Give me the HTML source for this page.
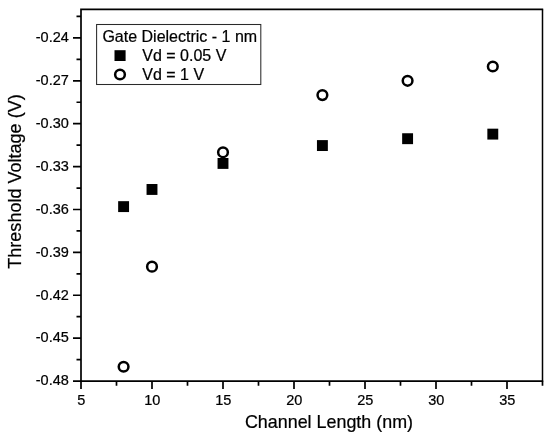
<!DOCTYPE html>
<html><head><meta charset="utf-8"><title>Threshold Voltage vs Channel Length</title>
<style>html,body{margin:0;padding:0;background:#fff}svg{display:block}text{font-family:"Liberation Sans",Arial,sans-serif;fill:#000;stroke:#000;stroke-width:0.22px}</style></head><body>
<svg width="550" height="436" viewBox="0 0 550 436">
<rect width="550" height="436" fill="#fff"/>
<path d="M80.15 9.4H543.2M80.15 381.05H543.2M81.0 9.4V381.05" fill="none" stroke="#000" stroke-width="1.7"/>
<path d="M542.5 9.4V381.05" fill="none" stroke="#000" stroke-width="1.5"/>
<path d="M81.0 381.05h-8.0M81.0 359.60h-4.5M81.0 338.16h-8.0M81.0 316.71h-4.5M81.0 295.26h-8.0M81.0 273.82h-4.5M81.0 252.37h-8.0M81.0 230.92h-4.5M81.0 209.48h-8.0M81.0 188.03h-4.5M81.0 166.58h-8.0M81.0 145.13h-4.5M81.0 123.69h-8.0M81.0 102.24h-4.5M81.0 80.79h-8.0M81.0 59.35h-4.5M81.0 37.90h-8.0M81.0 16.45h-4.5M81.00 381.05v7.9M116.50 381.05v4.7M152.00 381.05v7.9M187.50 381.05v4.7M223.00 381.05v7.9M258.50 381.05v4.7M294.00 381.05v7.9M329.50 381.05v4.7M365.00 381.05v7.9M400.50 381.05v4.7M436.00 381.05v7.9M471.50 381.05v4.7M507.00 381.05v7.9M542.50 381.05v4.7" stroke="#000" stroke-width="1.7" fill="none"/>
<text x="68.8" y="42.20" font-size="14.5" text-anchor="end">-0.24</text>
<text x="68.8" y="85.09" font-size="14.5" text-anchor="end">-0.27</text>
<text x="68.8" y="127.99" font-size="14.5" text-anchor="end">-0.30</text>
<text x="68.8" y="170.88" font-size="14.5" text-anchor="end">-0.33</text>
<text x="68.8" y="213.78" font-size="14.5" text-anchor="end">-0.36</text>
<text x="68.8" y="256.67" font-size="14.5" text-anchor="end">-0.39</text>
<text x="68.8" y="299.56" font-size="14.5" text-anchor="end">-0.42</text>
<text x="68.8" y="342.46" font-size="14.5" text-anchor="end">-0.45</text>
<text x="68.8" y="385.35" font-size="14.5" text-anchor="end">-0.48</text>
<text x="81.20" y="404.8" font-size="14.5" text-anchor="middle">5</text>
<text x="152.20" y="404.8" font-size="14.5" text-anchor="middle">10</text>
<text x="223.20" y="404.8" font-size="14.5" text-anchor="middle">15</text>
<text x="294.20" y="404.8" font-size="14.5" text-anchor="middle">20</text>
<text x="365.20" y="404.8" font-size="14.5" text-anchor="middle">25</text>
<text x="436.20" y="404.8" font-size="14.5" text-anchor="middle">30</text>
<text x="507.20" y="404.8" font-size="14.5" text-anchor="middle">35</text>
<text x="329.0" y="428.2" font-size="17.9" text-anchor="middle">Channel Length (nm)</text>
<text transform="translate(20.6 181.5) rotate(-90)" font-size="18.05" text-anchor="middle">Threshold Voltage (V)</text>
<rect x="118.15" y="201.17" width="10.9" height="10.9" fill="#000"/>
<rect x="146.55" y="184.01" width="10.9" height="10.9" fill="#000"/>
<rect x="217.55" y="157.99" width="10.9" height="10.9" fill="#000"/>
<rect x="316.95" y="140.11" width="10.9" height="10.9" fill="#000"/>
<rect x="402.15" y="133.25" width="10.9" height="10.9" fill="#000"/>
<rect x="487.35" y="128.67" width="10.9" height="10.9" fill="#000"/>
<circle cx="123.60" cy="366.75" r="4.85" fill="#fff" stroke="#000" stroke-width="2.5"/>
<circle cx="152.00" cy="266.67" r="4.85" fill="#fff" stroke="#000" stroke-width="2.5"/>
<circle cx="223.00" cy="152.28" r="4.85" fill="#fff" stroke="#000" stroke-width="2.5"/>
<circle cx="322.40" cy="95.09" r="4.85" fill="#fff" stroke="#000" stroke-width="2.5"/>
<circle cx="407.60" cy="80.79" r="4.85" fill="#fff" stroke="#000" stroke-width="2.5"/>
<circle cx="492.80" cy="66.50" r="4.85" fill="#fff" stroke="#000" stroke-width="2.5"/>
<rect x="96.6" y="24.5" width="164.2" height="60.0" fill="#fff" stroke="#2a2a2a" stroke-width="1.05"/>
<text x="102.4" y="41.6" font-size="16">Gate Dielectric - 1 nm</text>
<rect x="114.5" y="50.2" width="11.1" height="10.8" fill="#000"/>
<text x="142.3" y="61.0" font-size="16">Vd = 0.05 V</text>
<circle cx="120" cy="74.5" r="4.85" fill="#fff" stroke="#000" stroke-width="2.5"/>
<text x="142.3" y="79.6" font-size="16">Vd = 1 V</text>
</svg></body></html>
